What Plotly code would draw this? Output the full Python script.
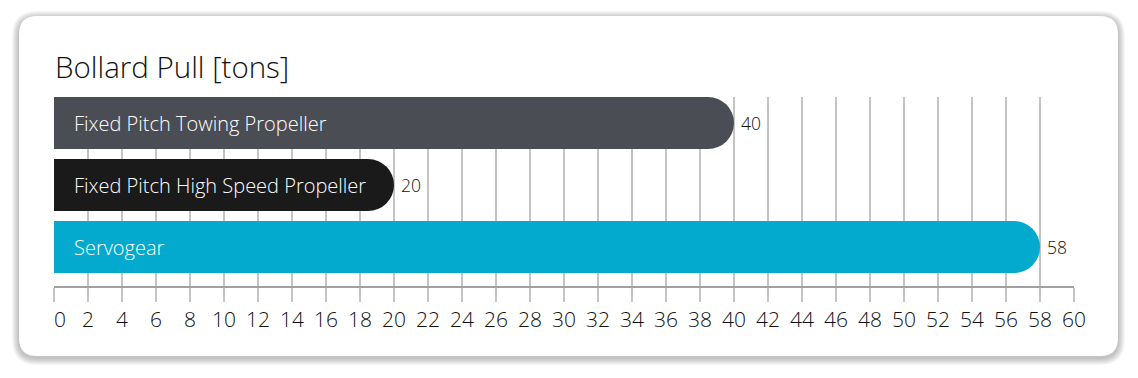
import plotly.graph_objects as go

# ---- data ----
categories = ["Fixed Pitch Towing Propeller", "Fixed Pitch High Speed Propeller", "Servogear"]
values = [40, 20, 58]
bar_colors = ["#4b4d54", "#1a1a1a", "#03aacd"]
tick_vals = list(range(0, 61, 2))
tick_text = ["\u2007" + "0"] + [str(t) for t in tick_vals[1:]]
title_text = "Bollard Pull [tons]"

W, H = 1138, 378
L, R, T, B = 54, 1074, 97, 286
FONT = "Open Sans"


def px(x):
    return (x - L) / (R - L)


def py(y):
    return (B - y) / (B - T)


def rrect(x0, y0, x1, y1, r):
    pts = [
        ("M", [(x0 + r, y0)]), ("L", [(x1 - r, y0)]), ("Q", [(x1, y0), (x1, y0 + r)]),
        ("L", [(x1, y1 - r)]), ("Q", [(x1, y1), (x1 - r, y1)]),
        ("L", [(x0 + r, y1)]), ("Q", [(x0, y1), (x0, y1 - r)]),
        ("L", [(x0, y0 + r)]), ("Q", [(x0, y0), (x0 + r, y0)]),
    ]
    s = ""
    for cmd, ps in pts:
        s += cmd + " " + " ".join(f"{px(a):.6f},{py(b):.6f}" for a, b in ps) + " "
    return s + "Z"


shapes = []
# soft shadow
for k in range(7, 0, -1):
    shapes.append(dict(type="path", xref="paper", yref="paper", layer="below",
                       path=rrect(19 - k, 16 - k + 2, 1118 + k, 356 + k + 2, 18 + k),
                       fillcolor="rgba(0,0,0,0.035)", line=dict(width=0)))
# card
shapes.append(dict(type="path", xref="paper", yref="paper", layer="below",
                   path=rrect(19, 16, 1118, 356, 18),
                   fillcolor="#ffffff", line=dict(width=0)))

fig = go.Figure()
fig.add_trace(go.Bar(
    orientation="h", x=values, y=categories,
    marker=dict(color=bar_colors, cornerradius="50%", line=dict(width=0)),
    width=52 / 62, hoverinfo="skip",
))

annotations = [dict(
    xref="paper", yref="paper", x=px(53), y=py(66), xanchor="left", yanchor="middle",
    text=title_text, showarrow=False,
    font=dict(family=FONT, size=29.5, color="#111111", weight=300),
)]
for c, v in zip(categories, values):
    annotations.append(dict(
        xref="x", yref="y", x=0, y=c, xshift=18, xanchor="left", yanchor="middle",
        text=c, showarrow=False,
        font=dict(family=FONT, size=20, color="#ffffff", weight=300),
    ))
    annotations.append(dict(
        xref="x", yref="y", x=v, y=c, xshift=5, xanchor="left", yanchor="middle",
        text=str(v), showarrow=False,
        font=dict(family=FONT, size=17.5, color="#111111", weight=300),
    ))

fig.update_layout(
    width=W, height=H,
    margin=dict(l=L, r=W - R, t=T, b=H - B, pad=0),
    paper_bgcolor="#ffffff", plot_bgcolor="rgba(0,0,0,0)",
    showlegend=False, shapes=shapes, annotations=annotations,
    font=dict(family=FONT),
    xaxis=dict(range=[0, 60], tickvals=tick_vals, ticktext=tick_text,
               showgrid=True, gridcolor="#c4c4c4", gridwidth=2,
               zeroline=False, showline=True, linecolor="#a0a0a0", linewidth=2,
               ticks="outside", ticklen=14, tickwidth=2, tickcolor="#c4c4c4",
               tickfont=dict(family=FONT, size=21, color="#111111", weight=300),
               fixedrange=True),
    yaxis=dict(type="category", categoryarray=categories, range=[2 + 39 / 62, -26 / 62],
               showticklabels=False, showgrid=False, zeroline=False, showline=False,
               fixedrange=True),
)

fig.write_html("out.html", config={"displayModeBar": False},
               post_script="document.body.style.margin='0';document.body.style.overflow='hidden';")
